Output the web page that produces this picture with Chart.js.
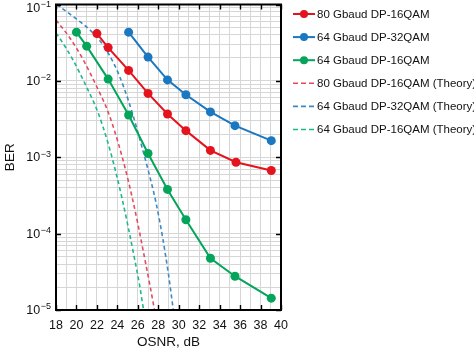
<!DOCTYPE html>
<html>
<head>
<meta charset="utf-8">
<script src="https://cdn.jsdelivr.net/npm/chart.js@4.4.1/dist/chart.umd.min.js"></script>
<style>
html,body{margin:0;padding:0;background:#fff;}
canvas{display:block;}
</style>
</head>
<body>
<canvas id="c" width="474" height="351"></canvas>
<script>
// ---- data ----
const seriesLabels = [
  '80 Gbaud DP-16QAM',
  '64 Gbaud DP-32QAM',
  '64 Gbaud DP-16QAM',
  '80 Gbaud DP-16QAM (Theory)',
  '64 Gbaud DP-32QAM (Theory)',
  '64 Gbaud DP-16QAM (Theory)'
];
const osnr80_16 = [22.0, 23.1, 25.1, 27.0, 28.9, 30.7, 33.1, 35.6, 39.05];
const ber80_16  = [0.0416, 0.0273, 0.0137, 0.00685, 0.00369, 0.00223, 0.00123, 0.00086, 0.00067];
const osnr64_32 = [25.1, 27.0, 28.9, 30.7, 33.1, 35.5, 39.05];
const ber64_32  = [0.0434, 0.0205, 0.0103, 0.00659, 0.00392, 0.00259, 0.00165];
const osnr64_16 = [20.0, 21.0, 23.1, 25.1, 27.0, 28.9, 30.7, 33.1, 35.5, 39.05];
const ber64_16  = [0.0434, 0.0285, 0.01055, 0.00358, 0.00112, 0.000379, 0.000152, 0.0000476, 0.0000277, 0.0000143];

const osnrTh80_16 = [18.0, 19.37, 20.67, 21.98, 23.09, 24.09, 24.85, 25.43, 26.02, 26.60, 27.19, 27.63];
const berTh80_16  = [0.0627, 0.0362, 0.0188, 0.00842, 0.00393, 0.00153, 0.000646, 0.000305, 0.000131, 0.0000531, 0.0000209, 0.00001];
const osnrTh64_32 = [18.07, 19.69, 21.65, 22.79, 23.77, 24.65, 25.43, 26.21, 27.0, 27.78, 28.46, 29.0, 29.47];
const berTh64_32  = [0.1, 0.0693, 0.042, 0.027, 0.0157, 0.0081, 0.00393, 0.00169, 0.000686, 0.000254, 0.0000835, 0.0000291, 0.00001];
const osnrTh64_16 = [18.0, 18.36, 19.66, 20.97, 22.08, 23.09, 23.84, 24.42, 25.01, 25.60, 26.18, 26.56];
const berTh64_16  = [0.0422, 0.0362, 0.0188, 0.00842, 0.00393, 0.00153, 0.000646, 0.000305, 0.000131, 0.0000531, 0.0000209, 0.00001];

const xTickLabels = [18, 20, 22, 24, 26, 28, 30, 32, 34, 36, 38, 40];
const yDecades = [1e-5, 1e-4, 1e-3, 1e-2, 1e-1];
const yExponents = ['\u22125', '\u22124', '\u22123', '\u22122', '\u22121'];

// ---- styles ----
const solidColors = ['#e3141d', '#1b77c0', '#04a55a'];
const dashColors  = ['#e54b5d', '#3c89c4', '#1db88c'];

function pts(xs, ys){ return xs.map((v,i)=>({x:v, y:ys[i]})); }

const solidSets = [[osnr80_16, ber80_16],[osnr64_32, ber64_32],[osnr64_16, ber64_16]];
const dashSets  = [[osnrTh80_16, berTh80_16],[osnrTh64_32, berTh64_32],[osnrTh64_16, berTh64_16]];

const datasets = [];
solidSets.forEach((s,i)=>{
  datasets.push({
    label: seriesLabels[i], data: pts(s[0], s[1]),
    borderColor: solidColors[i], backgroundColor: solidColors[i],
    borderWidth: 2, pointRadius: 4.5, pointBorderWidth: 0,
    pointBackgroundColor: solidColors[i], tension: 0, order: 1
  });
});
dashSets.forEach((s,i)=>{
  datasets.push({
    label: seriesLabels[3+i], data: pts(s[0], s[1]),
    borderColor: dashColors[i], backgroundColor: dashColors[i],
    borderWidth: 1.6, borderDash: [4,3], pointRadius: 0,
    cubicInterpolationMode: 'monotone', order: 2
  });
});

const FONT = '"Liberation Sans", Arial, Helvetica, sans-serif';

const decor = {
  id: 'decor',
  afterDraw(chart){
    const ctx = chart.ctx, a = chart.chartArea, xs = chart.scales.x, ys = chart.scales.y;
    ctx.save();
    ctx.strokeStyle = '#000';
    ctx.lineWidth = 1.4;
    ctx.beginPath();
    xTickLabels.forEach(v=>{
      const px = Math.round(xs.getPixelForValue(v)) + 0.5;
      ctx.moveTo(px, a.bottom); ctx.lineTo(px, a.bottom - 5);
      ctx.moveTo(px, a.top); ctx.lineTo(px, a.top + 5);
    });
    yDecades.forEach(v=>{
      const py = Math.round(ys.getPixelForValue(v)) + 0.5;
      ctx.moveTo(a.left, py); ctx.lineTo(a.left + 5, py);
      ctx.moveTo(a.right, py); ctx.lineTo(a.right - 5, py);
    });
    ctx.stroke();
    ctx.lineWidth = 2;
    ctx.strokeRect(a.left, a.top, a.right - a.left, a.bottom - a.top);

    // y tick labels with superscripts
    ctx.fillStyle = '#111';
    ctx.textBaseline = 'middle';
    yDecades.forEach((v,i)=>{
      const py = ys.getPixelForValue(v);
      let ec = py - 3, tc = py + 0.5;
      const shift = Math.max(0, 5 - ec);
      ec += shift; tc += shift;
      ctx.font = '9px ' + FONT;
      ctx.textAlign = 'right';
      const rx = a.left - 5;
      ctx.fillText(yExponents[i], rx, ec);
      const ew = ctx.measureText(yExponents[i]).width;
      ctx.font = '12.5px ' + FONT;
      ctx.fillText('10', rx - ew - 0.5, tc);
    });

    // legend
    ctx.font = '11.5px ' + FONT;
    ctx.textAlign = 'left';
    chart.data.datasets.forEach((ds,i)=>{
      const cy = 14 + i*23.1;
      const x0 = 293, x1 = 315;
      ctx.strokeStyle = ds.borderColor;
      ctx.lineWidth = ds.borderDash ? 1.6 : 2;
      ctx.setLineDash(ds.borderDash ? [5,3] : []);
      ctx.beginPath(); ctx.moveTo(x0, cy); ctx.lineTo(x1, cy); ctx.stroke();
      ctx.setLineDash([]);
      if (!ds.borderDash){
        ctx.fillStyle = ds.borderColor;
        ctx.beginPath(); ctx.arc((x0+x1)/2, cy, 4, 0, Math.PI*2); ctx.fill();
      }
      ctx.fillStyle = '#111';
      ctx.fillText(ds.label, 317, cy + 0.5);
    });
    ctx.restore();
  }
};

new Chart(document.getElementById('c'), {
  type: 'line',
  data: { datasets },
  options: {
    responsive: false,
    animation: false,
    devicePixelRatio: 1,
    layout: { padding: { top: 4, right: 193, left: 0, bottom: 0 } },
    plugins: { legend: { display: false }, tooltip: { enabled: false } },
    scales: {
      x: {
        type: 'linear', min: 18, max: 40,
        afterFit(s){ s.height = 41; },
        afterBuildTicks(s){ const t=[]; for(let v=18; v<=40; v++) t.push({value:v}); s.ticks = t; },
        ticks: {
          autoSkip: false, maxRotation: 0, padding: 8, color: '#111',
          font: { family: FONT, size: 12.5 },
          callback: v => xTickLabels.includes(v) ? String(v) : ''
        },
        grid: { color: '#d6d6d6', lineWidth: 1, drawTicks: false },
        border: { display: false },
        title: { display: true, text: 'OSNR, dB', color: '#111', font: { family: FONT, size: 13.5 }, padding: { top: 0, bottom: 1 } }
      },
      y: {
        type: 'logarithmic', min: 1e-5, max: 1e-1,
        afterFit(s){ s.width = 56; },
        afterBuildTicks(s){
          const t=[];
          for (let e=-5; e<=-2; e++) for (let m=1; m<=9; m++) t.push({value: m*Math.pow(10,e)});
          t.push({value: 0.1});
          s.ticks = t;
        },
        ticks: { display: false },
        grid: { color: '#d6d6d6', lineWidth: 1, drawTicks: false },
        border: { display: false },
        title: { display: true, text: 'BER', color: '#111', font: { family: FONT, size: 13.5 }, padding: { top: 2, bottom: 0 } }
      }
    }
  },
  plugins: [decor]
});
</script>
</body>
</html>
